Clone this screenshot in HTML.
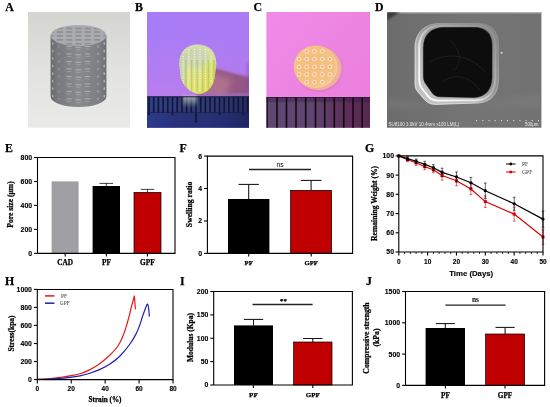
<!DOCTYPE html>
<html lang="en"><head><meta charset="utf-8"><title>Figure</title>
<style>
html,body{margin:0;padding:0;background:#fff}
body{width:550px;height:407px;overflow:hidden}
svg{display:block}
.sfb{font-family:"Liberation Serif", serif;font-weight:700}
.sfr{font-family:"Liberation Serif", serif;font-weight:400}
.ssb{font-family:"Liberation Sans", sans-serif;font-weight:700}
.ssr{font-family:"Liberation Sans", sans-serif;font-weight:400}
</style></head><body>
<svg width="550" height="407" viewBox="0 0 550 407">
<rect width="550" height="407" fill="#fff"/>
<defs><linearGradient id="gA" x1="0" y1="0" x2="0" y2="1"><stop offset="0" stop-color="#d4d4d0"/><stop offset="0.5" stop-color="#e2e2e0"/><stop offset="1" stop-color="#eaeae9"/></linearGradient><linearGradient id="gCyl" x1="0" y1="0" x2="1" y2="0"><stop offset="0" stop-color="#68696d"/><stop offset="0.12" stop-color="#77797c"/><stop offset="0.5" stop-color="#888a8d"/><stop offset="0.88" stop-color="#7c7e81"/><stop offset="1" stop-color="#6b6d70"/></linearGradient><clipPath id="cTop"><ellipse cx="78.5" cy="35.5" rx="27.2" ry="9.8"/></clipPath><clipPath id="cA"><rect x="28" y="12" width="102" height="115.7"/></clipPath><linearGradient id="gB" x1="0" y1="0" x2="1" y2="1"><stop offset="0" stop-color="#a87cf8"/><stop offset="0.5" stop-color="#aa7cf4"/><stop offset="1" stop-color="#a874ee"/></linearGradient><linearGradient id="gBs" x1="0" y1="0" x2="0" y2="1"><stop offset="0" stop-color="#d4dfac"/><stop offset="0.4" stop-color="#d8e096"/><stop offset="0.7" stop-color="#dee278"/><stop offset="1" stop-color="#e2e268"/></linearGradient><linearGradient id="gBr" x1="0" y1="0" x2="0" y2="1"><stop offset="0" stop-color="#2c3468"/><stop offset="0.5" stop-color="#2a3270"/><stop offset="1" stop-color="#26307a"/></linearGradient><linearGradient id="gHl" x1="0" y1="0" x2="0" y2="1"><stop offset="0" stop-color="#d8e0c0" stop-opacity="0.75"/><stop offset="0.5" stop-color="#b0c0b8" stop-opacity="0.45"/><stop offset="1" stop-color="#8090b0" stop-opacity="0"/></linearGradient><linearGradient id="gBh" x1="0" y1="0" x2="1" y2="0"><stop offset="0" stop-color="#3050c0" stop-opacity="0.3"/><stop offset="0.5" stop-color="#203090" stop-opacity="0.05"/><stop offset="1" stop-color="#101040" stop-opacity="0.4"/></linearGradient><linearGradient id="gBp" x1="0" y1="0" x2="0" y2="1"><stop offset="0" stop-color="#c880e6" stop-opacity="0"/><stop offset="1" stop-color="#c880e6" stop-opacity="0.5"/></linearGradient><clipPath id="cB"><rect x="147" y="12" width="102" height="115.7"/></clipPath><linearGradient id="gC" x1="0" y1="0" x2="1" y2="1"><stop offset="0" stop-color="#f08ae8"/><stop offset="1" stop-color="#ea7edb"/></linearGradient><radialGradient id="gCd" cx="0.45" cy="0.45" r="0.6"><stop offset="0" stop-color="#f4be7c"/><stop offset="0.8" stop-color="#f4c384"/><stop offset="1" stop-color="#f8d4a4"/></radialGradient><linearGradient id="gCr" x1="0" y1="0" x2="1" y2="0"><stop offset="0" stop-color="#5c4a70"/><stop offset="0.45" stop-color="#60466e"/><stop offset="0.75" stop-color="#5c3058"/><stop offset="1" stop-color="#582850"/></linearGradient><clipPath id="cC"><rect x="266.4" y="12" width="103.6" height="115.7"/></clipPath><linearGradient id="gD" x1="0" y1="0" x2="1" y2="0"><stop offset="0" stop-color="#6c6c6c"/><stop offset="0.5" stop-color="#747474"/><stop offset="1" stop-color="#727272"/></linearGradient><linearGradient id="gRim" x1="1" y1="0" x2="0" y2="1"><stop offset="0" stop-color="#858585"/><stop offset="0.45" stop-color="#989898"/><stop offset="0.62" stop-color="#b4b4b4"/><stop offset="1" stop-color="#c8c8c8"/></linearGradient><linearGradient id="gRim2" x1="1" y1="0" x2="0" y2="1"><stop offset="0" stop-color="#8c8c8c"/><stop offset="0.45" stop-color="#b4b4b4"/><stop offset="0.65" stop-color="#ececec"/><stop offset="1" stop-color="#ffffff"/></linearGradient><linearGradient id="gRim3" x1="1" y1="0" x2="0" y2="1"><stop offset="0" stop-color="#4a4a4a"/><stop offset="0.5" stop-color="#686868"/><stop offset="1" stop-color="#8a8a8a"/></linearGradient><clipPath id="cD"><rect x="387" y="12" width="154.4" height="115.7"/></clipPath><filter id="blur1" x="-20%" y="-20%" width="140%" height="140%"><feGaussianBlur stdDeviation="1"/></filter><filter id="blur3" x="-30%" y="-30%" width="160%" height="160%"><feGaussianBlur stdDeviation="3"/></filter><filter id="blur05" x="-20%" y="-20%" width="140%" height="140%"><feGaussianBlur stdDeviation="0.5"/></filter></defs>
<rect x="28" y="12" width="102.00" height="115.70" fill="url(#gA)"/>
<g clip-path="url(#cA)">
<path d="M50.6 35.5V96.5A27.9 10.5 0 0 0 106.4 96.5V35.5Z" fill="url(#gCyl)"/>
<rect x="66.4" y="45.9" width="5.2" height="1.1" fill="#b9bbbf" opacity="0.75"/>
<rect x="66.8" y="48.5" width="4.4" height="0.9" fill="#aeb0b4" opacity="0.6"/>
<rect x="75.5" y="46.7" width="5.6" height="1.1" fill="#b9bbbf" opacity="0.75"/>
<rect x="75.9" y="49.3" width="4.8" height="0.9" fill="#aeb0b4" opacity="0.6"/>
<rect x="85.0" y="45.9" width="5.2" height="1.1" fill="#b9bbbf" opacity="0.75"/>
<rect x="85.4" y="48.5" width="4.4" height="0.9" fill="#aeb0b4" opacity="0.6"/>
<ellipse cx="52.8" cy="43.5" rx="0.8" ry="1.5" fill="#a9abaf"/>
<ellipse cx="104.2" cy="43.5" rx="0.8" ry="1.5" fill="#b3b5b9"/>
<ellipse cx="59" cy="46.5" rx="1.4" ry="1.2" fill="#8e9093" opacity="0.7"/>
<ellipse cx="98" cy="46.5" rx="1.4" ry="1.2" fill="#a0a2a5" opacity="0.7"/>
<rect x="66.4" y="53.4" width="5.2" height="1.1" fill="#b9bbbf" opacity="0.75"/>
<rect x="66.8" y="56.0" width="4.4" height="0.9" fill="#aeb0b4" opacity="0.6"/>
<rect x="75.5" y="54.2" width="5.6" height="1.1" fill="#b9bbbf" opacity="0.75"/>
<rect x="75.9" y="56.8" width="4.8" height="0.9" fill="#aeb0b4" opacity="0.6"/>
<rect x="85.0" y="53.4" width="5.2" height="1.1" fill="#b9bbbf" opacity="0.75"/>
<rect x="85.4" y="56.0" width="4.4" height="0.9" fill="#aeb0b4" opacity="0.6"/>
<ellipse cx="52.8" cy="51.0" rx="0.8" ry="1.5" fill="#a9abaf"/>
<ellipse cx="104.2" cy="51.0" rx="0.8" ry="1.5" fill="#b3b5b9"/>
<ellipse cx="59" cy="54.0" rx="1.4" ry="1.2" fill="#8e9093" opacity="0.7"/>
<ellipse cx="98" cy="54.0" rx="1.4" ry="1.2" fill="#a0a2a5" opacity="0.7"/>
<rect x="66.4" y="60.9" width="5.2" height="1.1" fill="#b9bbbf" opacity="0.75"/>
<rect x="66.8" y="63.5" width="4.4" height="0.9" fill="#aeb0b4" opacity="0.6"/>
<rect x="75.5" y="61.7" width="5.6" height="1.1" fill="#b9bbbf" opacity="0.75"/>
<rect x="75.9" y="64.3" width="4.8" height="0.9" fill="#aeb0b4" opacity="0.6"/>
<rect x="85.0" y="60.9" width="5.2" height="1.1" fill="#b9bbbf" opacity="0.75"/>
<rect x="85.4" y="63.5" width="4.4" height="0.9" fill="#aeb0b4" opacity="0.6"/>
<ellipse cx="52.8" cy="58.5" rx="0.8" ry="1.5" fill="#a9abaf"/>
<ellipse cx="104.2" cy="58.5" rx="0.8" ry="1.5" fill="#b3b5b9"/>
<ellipse cx="59" cy="61.5" rx="1.4" ry="1.2" fill="#8e9093" opacity="0.7"/>
<ellipse cx="98" cy="61.5" rx="1.4" ry="1.2" fill="#a0a2a5" opacity="0.7"/>
<rect x="66.4" y="68.4" width="5.2" height="1.1" fill="#b9bbbf" opacity="0.75"/>
<rect x="66.8" y="71.0" width="4.4" height="0.9" fill="#aeb0b4" opacity="0.6"/>
<rect x="75.5" y="69.2" width="5.6" height="1.1" fill="#b9bbbf" opacity="0.75"/>
<rect x="75.9" y="71.8" width="4.8" height="0.9" fill="#aeb0b4" opacity="0.6"/>
<rect x="85.0" y="68.4" width="5.2" height="1.1" fill="#b9bbbf" opacity="0.75"/>
<rect x="85.4" y="71.0" width="4.4" height="0.9" fill="#aeb0b4" opacity="0.6"/>
<ellipse cx="52.8" cy="66.0" rx="0.8" ry="1.5" fill="#a9abaf"/>
<ellipse cx="104.2" cy="66.0" rx="0.8" ry="1.5" fill="#b3b5b9"/>
<ellipse cx="59" cy="69.0" rx="1.4" ry="1.2" fill="#8e9093" opacity="0.7"/>
<ellipse cx="98" cy="69.0" rx="1.4" ry="1.2" fill="#a0a2a5" opacity="0.7"/>
<rect x="66.4" y="75.9" width="5.2" height="1.1" fill="#b9bbbf" opacity="0.75"/>
<rect x="66.8" y="78.5" width="4.4" height="0.9" fill="#aeb0b4" opacity="0.6"/>
<rect x="75.5" y="76.7" width="5.6" height="1.1" fill="#b9bbbf" opacity="0.75"/>
<rect x="75.9" y="79.3" width="4.8" height="0.9" fill="#aeb0b4" opacity="0.6"/>
<rect x="85.0" y="75.9" width="5.2" height="1.1" fill="#b9bbbf" opacity="0.75"/>
<rect x="85.4" y="78.5" width="4.4" height="0.9" fill="#aeb0b4" opacity="0.6"/>
<ellipse cx="52.8" cy="73.5" rx="0.8" ry="1.5" fill="#a9abaf"/>
<ellipse cx="104.2" cy="73.5" rx="0.8" ry="1.5" fill="#b3b5b9"/>
<ellipse cx="59" cy="76.5" rx="1.4" ry="1.2" fill="#8e9093" opacity="0.7"/>
<ellipse cx="98" cy="76.5" rx="1.4" ry="1.2" fill="#a0a2a5" opacity="0.7"/>
<rect x="66.4" y="83.4" width="5.2" height="1.1" fill="#b9bbbf" opacity="0.75"/>
<rect x="66.8" y="86.0" width="4.4" height="0.9" fill="#aeb0b4" opacity="0.6"/>
<rect x="75.5" y="84.2" width="5.6" height="1.1" fill="#b9bbbf" opacity="0.75"/>
<rect x="75.9" y="86.8" width="4.8" height="0.9" fill="#aeb0b4" opacity="0.6"/>
<rect x="85.0" y="83.4" width="5.2" height="1.1" fill="#b9bbbf" opacity="0.75"/>
<rect x="85.4" y="86.0" width="4.4" height="0.9" fill="#aeb0b4" opacity="0.6"/>
<ellipse cx="52.8" cy="81.0" rx="0.8" ry="1.5" fill="#a9abaf"/>
<ellipse cx="104.2" cy="81.0" rx="0.8" ry="1.5" fill="#b3b5b9"/>
<ellipse cx="59" cy="84.0" rx="1.4" ry="1.2" fill="#8e9093" opacity="0.7"/>
<ellipse cx="98" cy="84.0" rx="1.4" ry="1.2" fill="#a0a2a5" opacity="0.7"/>
<rect x="66.4" y="90.9" width="5.2" height="1.1" fill="#b9bbbf" opacity="0.75"/>
<rect x="66.8" y="93.5" width="4.4" height="0.9" fill="#aeb0b4" opacity="0.6"/>
<rect x="75.5" y="91.7" width="5.6" height="1.1" fill="#b9bbbf" opacity="0.75"/>
<rect x="75.9" y="94.3" width="4.8" height="0.9" fill="#aeb0b4" opacity="0.6"/>
<rect x="85.0" y="90.9" width="5.2" height="1.1" fill="#b9bbbf" opacity="0.75"/>
<rect x="85.4" y="93.5" width="4.4" height="0.9" fill="#aeb0b4" opacity="0.6"/>
<ellipse cx="52.8" cy="88.5" rx="0.8" ry="1.5" fill="#a9abaf"/>
<ellipse cx="104.2" cy="88.5" rx="0.8" ry="1.5" fill="#b3b5b9"/>
<ellipse cx="59" cy="91.5" rx="1.4" ry="1.2" fill="#8e9093" opacity="0.7"/>
<ellipse cx="98" cy="91.5" rx="1.4" ry="1.2" fill="#a0a2a5" opacity="0.7"/>
<rect x="66.4" y="98.4" width="5.2" height="1.1" fill="#b9bbbf" opacity="0.75"/>
<rect x="66.8" y="101.0" width="4.4" height="0.9" fill="#aeb0b4" opacity="0.6"/>
<rect x="75.5" y="99.2" width="5.6" height="1.1" fill="#b9bbbf" opacity="0.75"/>
<rect x="75.9" y="101.8" width="4.8" height="0.9" fill="#aeb0b4" opacity="0.6"/>
<rect x="85.0" y="98.4" width="5.2" height="1.1" fill="#b9bbbf" opacity="0.75"/>
<rect x="85.4" y="101.0" width="4.4" height="0.9" fill="#aeb0b4" opacity="0.6"/>
<ellipse cx="52.8" cy="96.0" rx="0.8" ry="1.5" fill="#a9abaf"/>
<ellipse cx="104.2" cy="96.0" rx="0.8" ry="1.5" fill="#b3b5b9"/>
<ellipse cx="59" cy="99.0" rx="1.4" ry="1.2" fill="#8e9093" opacity="0.7"/>
<ellipse cx="98" cy="99.0" rx="1.4" ry="1.2" fill="#a0a2a5" opacity="0.7"/>
<ellipse cx="78.5" cy="35.5" rx="27.9" ry="10.5" fill="#a9abae"/>
<g clip-path="url(#cTop)">
<rect x="47.6" y="27.6" width="6" height="1.7" fill="#8d8f92"/>
<rect x="56.9" y="27.6" width="6" height="1.7" fill="#8d8f92"/>
<rect x="66.2" y="27.6" width="6" height="1.7" fill="#8d8f92"/>
<rect x="75.5" y="27.6" width="6" height="1.7" fill="#8d8f92"/>
<rect x="84.8" y="27.6" width="6" height="1.7" fill="#8d8f92"/>
<rect x="94.1" y="27.6" width="6" height="1.7" fill="#8d8f92"/>
<rect x="103.4" y="27.6" width="6" height="1.7" fill="#8d8f92"/>
<rect x="47.6" y="31.2" width="6" height="1.7" fill="#8d8f92"/>
<rect x="56.9" y="31.2" width="6" height="1.7" fill="#8d8f92"/>
<rect x="66.2" y="31.2" width="6" height="1.7" fill="#8d8f92"/>
<rect x="75.5" y="31.2" width="6" height="1.7" fill="#8d8f92"/>
<rect x="84.8" y="31.2" width="6" height="1.7" fill="#8d8f92"/>
<rect x="94.1" y="31.2" width="6" height="1.7" fill="#8d8f92"/>
<rect x="103.4" y="31.2" width="6" height="1.7" fill="#8d8f92"/>
<rect x="47.6" y="35.0" width="6" height="1.7" fill="#8d8f92"/>
<rect x="56.9" y="35.0" width="6" height="1.7" fill="#8d8f92"/>
<rect x="66.2" y="35.0" width="6" height="1.7" fill="#8d8f92"/>
<rect x="75.5" y="35.0" width="6" height="1.7" fill="#8d8f92"/>
<rect x="84.8" y="35.0" width="6" height="1.7" fill="#8d8f92"/>
<rect x="94.1" y="35.0" width="6" height="1.7" fill="#8d8f92"/>
<rect x="103.4" y="35.0" width="6" height="1.7" fill="#8d8f92"/>
<rect x="47.6" y="39.0" width="6" height="1.7" fill="#8d8f92"/>
<rect x="56.9" y="39.0" width="6" height="1.7" fill="#8d8f92"/>
<rect x="66.2" y="39.0" width="6" height="1.7" fill="#8d8f92"/>
<rect x="75.5" y="39.0" width="6" height="1.7" fill="#8d8f92"/>
<rect x="84.8" y="39.0" width="6" height="1.7" fill="#8d8f92"/>
<rect x="94.1" y="39.0" width="6" height="1.7" fill="#8d8f92"/>
<rect x="103.4" y="39.0" width="6" height="1.7" fill="#8d8f92"/>
<rect x="47.6" y="43.0" width="6" height="1.7" fill="#8d8f92"/>
<rect x="56.9" y="43.0" width="6" height="1.7" fill="#8d8f92"/>
<rect x="66.2" y="43.0" width="6" height="1.7" fill="#8d8f92"/>
<rect x="75.5" y="43.0" width="6" height="1.7" fill="#8d8f92"/>
<rect x="84.8" y="43.0" width="6" height="1.7" fill="#8d8f92"/>
<rect x="94.1" y="43.0" width="6" height="1.7" fill="#8d8f92"/>
<rect x="103.4" y="43.0" width="6" height="1.7" fill="#8d8f92"/>
</g>
</g>
<rect x="147" y="12" width="102.00" height="115.70" fill="url(#gB)"/>
<g clip-path="url(#cB)">
<rect x="147" y="36" width="102" height="62" fill="url(#gBp)"/>
<path d="M206 66 L252 78 L252 99 L198 99 Z" fill="#935680" filter="url(#blur1)" opacity="0.95"/>
<path d="M206 70 L232 79 L226 99 L198 99 Z" fill="#b47890" filter="url(#blur3)" opacity="0.8"/>
<rect x="246" y="62" width="5" height="36" fill="#7a48b0" opacity="0.3" filter="url(#blur1)"/>
<rect x="196" y="93" width="56" height="5" fill="#a070c8" opacity="0.6" filter="url(#blur1)"/>
<g filter="url(#blur05)">
<path d="M179.3 64 C179.3 51 187 44.6 197.6 44.6 C208.4 44.6 216.3 51 216.3 64 L214.6 78 C213.6 83 212 86.5 208.4 90 C205 93 201.5 93.8 198.5 93.8 C194.5 93.8 191.5 92 188.6 89.6 C185 86.5 182 82 180.8 78 Z" fill="url(#gBs)"/>
<clipPath id="cBs"><path d="M179.3 64 C179.3 51 187 44.6 197.6 44.6 C208.4 44.6 216.3 51 216.3 64 L214.6 78 C213.6 83 212 86.5 208.4 90 C205 93 201.5 93.8 198.5 93.8 C194.5 93.8 191.5 92 188.6 89.6 C185 86.5 182 82 180.8 78 Z"/></clipPath>
<g clip-path="url(#cBs)">
<ellipse cx="196" cy="58" rx="12" ry="10" fill="#c4ccc0" opacity="0.55" filter="url(#blur1)"/>
<rect x="179" y="54" width="6.5" height="32" fill="#b8ccc0" opacity="0.6" filter="url(#blur1)"/>
<path d="M206 62 H217 V80 L209 93 H200 Z" fill="#d6de50" opacity="0.5" filter="url(#blur1)"/>
<line x1="183.2" y1="56" x2="183.2" y2="84" stroke="#f6f8e0" stroke-width="1.4" stroke-dasharray="1.2 1.2" opacity="0.75"/>
<line x1="186.0" y1="60" x2="186.0" y2="92" stroke="#a8b458" stroke-width="1.3" opacity="0.5"/>
<line x1="188.8" y1="49" x2="188.8" y2="92" stroke="#f6f8e0" stroke-width="1.4" stroke-dasharray="1.2 1.2" opacity="0.75"/>
<line x1="191.60000000000002" y1="60" x2="191.60000000000002" y2="92" stroke="#a8b458" stroke-width="1.3" opacity="0.5"/>
<line x1="194.4" y1="49" x2="194.4" y2="92" stroke="#f6f8e0" stroke-width="1.4" stroke-dasharray="1.2 1.2" opacity="0.75"/>
<line x1="197.20000000000002" y1="60" x2="197.20000000000002" y2="92" stroke="#a8b458" stroke-width="1.3" opacity="0.5"/>
<line x1="200.0" y1="49" x2="200.0" y2="92" stroke="#f6f8e0" stroke-width="1.4" stroke-dasharray="1.2 1.2" opacity="0.75"/>
<line x1="202.8" y1="60" x2="202.8" y2="92" stroke="#a8b458" stroke-width="1.3" opacity="0.5"/>
<line x1="205.6" y1="49" x2="205.6" y2="92" stroke="#f6f8e0" stroke-width="1.4" stroke-dasharray="1.2 1.2" opacity="0.75"/>
<line x1="208.4" y1="60" x2="208.4" y2="92" stroke="#a8b458" stroke-width="1.3" opacity="0.5"/>
<line x1="211.2" y1="56" x2="211.2" y2="84" stroke="#f6f8e0" stroke-width="1.4" stroke-dasharray="1.2 1.2" opacity="0.75"/>
<line x1="214.0" y1="60" x2="214.0" y2="92" stroke="#a8b458" stroke-width="1.3" opacity="0.5"/>
</g>
</g>
<rect x="147" y="96.8" width="102.00" height="34.00" fill="url(#gBr)"/>
<rect x="147" y="96.8" width="102.00" height="15.20" fill="#333d76" opacity="0.8"/>
<rect x="147" y="96.8" width="102.00" height="34.00" fill="url(#gBh)"/>
<line x1="149.0" y1="97" x2="149.0" y2="115" stroke="#10142e" stroke-width="1.7" opacity="0.9"/>
<line x1="153.7" y1="97" x2="153.7" y2="113" stroke="#10142e" stroke-width="1.7" opacity="0.9"/>
<line x1="158.4" y1="97" x2="158.4" y2="113" stroke="#10142e" stroke-width="1.7" opacity="0.9"/>
<line x1="163.1" y1="97" x2="163.1" y2="113" stroke="#10142e" stroke-width="1.7" opacity="0.9"/>
<line x1="167.8" y1="97" x2="167.8" y2="113" stroke="#10142e" stroke-width="1.7" opacity="0.9"/>
<line x1="172.5" y1="97" x2="172.5" y2="115" stroke="#10142e" stroke-width="1.7" opacity="0.9"/>
<line x1="177.2" y1="97" x2="177.2" y2="113" stroke="#10142e" stroke-width="1.7" opacity="0.9"/>
<line x1="181.9" y1="97" x2="181.9" y2="113" stroke="#10142e" stroke-width="1.7" opacity="0.9"/>
<line x1="186.6" y1="97" x2="186.6" y2="113" stroke="#10142e" stroke-width="1.7" opacity="0.9"/>
<line x1="191.3" y1="97" x2="191.3" y2="113" stroke="#10142e" stroke-width="1.7" opacity="0.9"/>
<line x1="196.0" y1="97" x2="196.0" y2="123" stroke="#10142e" stroke-width="1.7" opacity="0.9"/>
<line x1="200.7" y1="97" x2="200.7" y2="113" stroke="#10142e" stroke-width="1.7" opacity="0.9"/>
<line x1="205.4" y1="97" x2="205.4" y2="113" stroke="#10142e" stroke-width="1.7" opacity="0.9"/>
<line x1="210.1" y1="97" x2="210.1" y2="113" stroke="#10142e" stroke-width="1.7" opacity="0.9"/>
<line x1="214.8" y1="97" x2="214.8" y2="113" stroke="#10142e" stroke-width="1.7" opacity="0.9"/>
<line x1="219.5" y1="97" x2="219.5" y2="115" stroke="#10142e" stroke-width="1.7" opacity="0.9"/>
<line x1="224.2" y1="97" x2="224.2" y2="113" stroke="#10142e" stroke-width="1.7" opacity="0.9"/>
<line x1="228.9" y1="97" x2="228.9" y2="113" stroke="#10142e" stroke-width="1.7" opacity="0.9"/>
<line x1="233.6" y1="97" x2="233.6" y2="113" stroke="#10142e" stroke-width="1.7" opacity="0.9"/>
<line x1="238.3" y1="97" x2="238.3" y2="113" stroke="#10142e" stroke-width="1.7" opacity="0.9"/>
<line x1="243.0" y1="97" x2="243.0" y2="115" stroke="#10142e" stroke-width="1.7" opacity="0.9"/>
<line x1="247.7" y1="97" x2="247.7" y2="113" stroke="#10142e" stroke-width="1.7" opacity="0.9"/>
<line x1="252.4" y1="97" x2="252.4" y2="113" stroke="#10142e" stroke-width="1.7" opacity="0.9"/>
<line x1="147" y1="112.4" x2="249" y2="112.4" stroke="#1a2048" stroke-width="1" opacity="0.7"/>
<rect x="183" y="96" width="14" height="12" fill="url(#gHl)" filter="url(#blur1)"/>
<line x1="147" y1="96.8" x2="249" y2="96.8" stroke="#181c40" stroke-width="1"/>
</g>
<rect x="266.4" y="12" width="103.60" height="115.70" fill="url(#gC)"/>
<g clip-path="url(#cC)">
<ellipse cx="319.3" cy="69.6" rx="23.4" ry="22" fill="#d070b8" opacity="0.55" filter="url(#blur1)"/>
<ellipse cx="318.3" cy="68.4" rx="23.2" ry="21.8" fill="#eeb09a" filter="url(#blur05)"/>
<g filter="url(#blur05)">
<ellipse cx="315.6" cy="66.7" rx="21.9" ry="21.2" fill="url(#gCd)"/>
<circle cx="299" cy="59" r="1.8" fill="#f2ac8c" stroke="#fbe8d0" stroke-width="1.0"/>
<circle cx="299" cy="66.8" r="1.8" fill="#f2ac8c" stroke="#fbe8d0" stroke-width="1.0"/>
<circle cx="299" cy="74.5" r="1.8" fill="#f2ac8c" stroke="#fbe8d0" stroke-width="1.0"/>
<circle cx="306.7" cy="51.3" r="1.8" fill="#f2ac8c" stroke="#fbe8d0" stroke-width="1.0"/>
<circle cx="306.7" cy="59" r="1.8" fill="#f2ac8c" stroke="#fbe8d0" stroke-width="1.0"/>
<circle cx="306.7" cy="66.8" r="1.8" fill="#f2ac8c" stroke="#fbe8d0" stroke-width="1.0"/>
<circle cx="306.7" cy="74.5" r="1.8" fill="#f2ac8c" stroke="#fbe8d0" stroke-width="1.0"/>
<circle cx="306.7" cy="82.2" r="1.8" fill="#f2ac8c" stroke="#fbe8d0" stroke-width="1.0"/>
<circle cx="314.5" cy="51.3" r="1.8" fill="#f2ac8c" stroke="#fbe8d0" stroke-width="1.0"/>
<circle cx="314.5" cy="59" r="1.8" fill="#f2ac8c" stroke="#fbe8d0" stroke-width="1.0"/>
<circle cx="314.5" cy="66.8" r="1.8" fill="#f2ac8c" stroke="#fbe8d0" stroke-width="1.0"/>
<circle cx="314.5" cy="74.5" r="1.8" fill="#f2ac8c" stroke="#fbe8d0" stroke-width="1.0"/>
<circle cx="314.5" cy="82.2" r="1.8" fill="#f2ac8c" stroke="#fbe8d0" stroke-width="1.0"/>
<circle cx="322.2" cy="51.3" r="1.8" fill="#f2ac8c" stroke="#fbe8d0" stroke-width="1.0"/>
<circle cx="322.2" cy="59" r="1.8" fill="#f2ac8c" stroke="#fbe8d0" stroke-width="1.0"/>
<circle cx="322.2" cy="66.8" r="1.8" fill="#f2ac8c" stroke="#fbe8d0" stroke-width="1.0"/>
<circle cx="322.2" cy="74.5" r="1.8" fill="#f2ac8c" stroke="#fbe8d0" stroke-width="1.0"/>
<circle cx="322.2" cy="82.2" r="1.8" fill="#f2ac8c" stroke="#fbe8d0" stroke-width="1.0"/>
<circle cx="329.9" cy="59" r="1.8" fill="#f2ac8c" stroke="#fbe8d0" stroke-width="1.0"/>
<circle cx="329.9" cy="66.8" r="1.8" fill="#f2ac8c" stroke="#fbe8d0" stroke-width="1.0"/>
<circle cx="329.9" cy="74.5" r="1.8" fill="#f2ac8c" stroke="#fbe8d0" stroke-width="1.0"/>
</g>
<rect x="266.4" y="97.2" width="103.60" height="34.00" fill="url(#gCr)"/>
<rect x="266.4" y="97.2" width="103.60" height="5.00" fill="#30183a" opacity="0.35"/>
<line x1="267.0" y1="97.2" x2="267.0" y2="131" stroke="#160818" stroke-width="1.6"/>
<line x1="277.0" y1="97.2" x2="277.0" y2="131" stroke="#160818" stroke-width="1.6"/>
<line x1="286.5" y1="97.2" x2="286.5" y2="131" stroke="#160818" stroke-width="1.6"/>
<line x1="296.0" y1="97.2" x2="296.0" y2="131" stroke="#160818" stroke-width="1.6"/>
<line x1="305.7" y1="97.2" x2="305.7" y2="131" stroke="#160818" stroke-width="1.6"/>
<line x1="315.5" y1="97.2" x2="315.5" y2="131" stroke="#160818" stroke-width="1.6"/>
<line x1="324.7" y1="97.2" x2="324.7" y2="131" stroke="#160818" stroke-width="1.6"/>
<line x1="334.3" y1="97.2" x2="334.3" y2="131" stroke="#160818" stroke-width="1.6"/>
<line x1="343.8" y1="97.2" x2="343.8" y2="131" stroke="#160818" stroke-width="1.6"/>
<line x1="353.0" y1="97.2" x2="353.0" y2="131" stroke="#160818" stroke-width="1.6"/>
<line x1="362.2" y1="97.2" x2="362.2" y2="131" stroke="#160818" stroke-width="1.6"/>
<line x1="266.4" y1="97.5" x2="370" y2="97.5" stroke="#2a1430" stroke-width="0.8"/>
</g>
<rect x="387" y="12" width="154.40" height="115.70" fill="url(#gD)"/>
<g clip-path="url(#cD)">
<rect x="387" y="12" width="154.4" height="1.4" fill="#b0b0b0"/>
<path d="M387 12 L400 12 L387 20 Z" fill="#3a3a3a" filter="url(#blur1)"/>
<path d="M387 100 C400 99 410 101 420 104 C440 110 470 108 500 100 L541 92 V108 H387Z" fill="#808080" opacity="0.5" filter="url(#blur3)"/>
<path d="M440 23.6 H478 C491 23.6 498.4 31 498.4 44 V80 C498.4 93 492 102 478 103 L436 104.4 C430 104.4 427 102.5 424 99 L417.5 91.5 C415.6 89 415 87 415 83 V48 C415 33 424 23.6 440 23.6 Z" fill="url(#gRim)" filter="url(#blur05)"/>
<path d="M441.5 25.6 H476.5 C488.5 25.6 495.2 32.5 495.2 45 V79 C495 91 489 99.5 476.5 100.3 L438 100.6 C433 100.6 430.2 99 427.6 95.6 L421.3 87.5 C419.6 85.2 419.2 83 419.2 79.5 V48 C419.2 34.5 427 25.6 441.5 25.6 Z" fill="none" stroke="url(#gRim2)" stroke-width="1.9" filter="url(#blur05)"/>
<path d="M440 23.6 H478 C491 23.6 498.4 31 498.4 44 V80 C498.4 93 492 102 478 103 L436 104.4 C430 104.4 427 102.5 424 99 L417.5 91.5 C415.6 89 415 87 415 83 V48 C415 33 424 23.6 440 23.6 Z" fill="none" stroke="url(#gRim2)" stroke-width="0.9" opacity="0.8"/>
<path d="M444 27.5 H474 C486 27.5 492 34 492 46 V78 C491.5 89 486 97 474 97.4 L440 96.8 C436 96.8 433.5 95 431.5 92 L425.5 83.5 C424 81.5 423.4 79 423.4 76 V48 C423.4 35 431 27.5 444 27.5 Z" fill="#0b0b0b" stroke="url(#gRim3)" stroke-width="1.2"/>
<path d="M444 27.5 H474 C486 27.5 492 34 492 46 V78 C491.5 89 486 97 474 97.4 L440 96.8 C436 96.8 433.5 95 431.5 92 L425.5 83.5 C424 81.5 423.4 79 423.4 76 V48 C423.4 35 431 27.5 444 27.5 Z" fill="#0b0b0b" filter="url(#blur05)"/>
<path d="M430 62 C445 52 470 54 485 72 M442 82 C455 72 470 77 480 90 M450 40 C460 50 462 60 455 70" fill="none" stroke="#242424" stroke-width="0.8"/>
<circle cx="501.6" cy="52.8" r="1.1" fill="#d0d0d0"/>
<text class="ssr" x="388.5" y="125.8" font-size="4.8" text-anchor="start" fill="#ececec" textLength="70.5" lengthAdjust="spacingAndGlyphs">SU8100 3.0kV 10.4mm x100 LM(L)</text>
<text class="ssr" x="525" y="125.8" font-size="4.8" text-anchor="start" fill="#ececec" textLength="13.4" lengthAdjust="spacingAndGlyphs">500μm</text>
<rect x="476.2" y="120" width="0.9" height="1.2" fill="#eee"/>
<rect x="482.4" y="120" width="0.9" height="1.2" fill="#eee"/>
<rect x="488.6" y="120" width="0.9" height="1.2" fill="#eee"/>
<rect x="494.7" y="120" width="0.9" height="1.2" fill="#eee"/>
<rect x="500.9" y="120" width="0.9" height="1.2" fill="#eee"/>
<rect x="507.1" y="120" width="0.9" height="1.2" fill="#eee"/>
<rect x="513.3" y="120" width="0.9" height="1.2" fill="#eee"/>
<rect x="519.5" y="120" width="0.9" height="1.2" fill="#eee"/>
<rect x="525.6" y="120" width="0.9" height="1.2" fill="#eee"/>
<rect x="531.8" y="120" width="0.9" height="1.2" fill="#eee"/>
<rect x="538.0" y="120" width="0.9" height="1.2" fill="#eee"/>
</g>
<text class="sfb" x="5.2" y="10.6" font-size="11.8" text-anchor="start" fill="#000" stroke="#000" stroke-width="0.25">A</text>
<text class="sfb" x="135" y="10.6" font-size="11.8" text-anchor="start" fill="#000" stroke="#000" stroke-width="0.25">B</text>
<text class="sfb" x="253.4" y="10.6" font-size="11.8" text-anchor="start" fill="#000" stroke="#000" stroke-width="0.25">C</text>
<text class="sfb" x="375" y="10.6" font-size="11.8" text-anchor="start" fill="#000" stroke="#000" stroke-width="0.25">D</text>
<text class="sfb" x="5" y="152.2" font-size="11.8" text-anchor="start" fill="#000" stroke="#000" stroke-width="0.25">E</text>
<text class="sfb" x="179.4" y="152.2" font-size="11.8" text-anchor="start" fill="#000" stroke="#000" stroke-width="0.25">F</text>
<text class="sfb" x="365" y="152.2" font-size="11.8" text-anchor="start" fill="#000" stroke="#000" stroke-width="0.25">G</text>
<text class="sfb" x="5" y="284.6" font-size="11.8" text-anchor="start" fill="#000" stroke="#000" stroke-width="0.25">H</text>
<text class="sfb" x="180" y="284.6" font-size="11.8" text-anchor="start" fill="#000" stroke="#000" stroke-width="0.25">I</text>
<text class="sfb" x="366" y="284.6" font-size="11.8" text-anchor="start" fill="#000" stroke="#000" stroke-width="0.25">J</text>
<rect x="51.6" y="181.4" width="27.00" height="72.00" fill="#a0a0a4"/>
<line x1="106.3" y1="183.4" x2="106.3" y2="186" stroke="#111" stroke-width="0.8"/>
<line x1="99.5" y1="183.4" x2="113.1" y2="183.4" stroke="#111" stroke-width="0.8"/>
<rect x="92.6" y="186" width="27.40" height="67.40" fill="#000"/>
<line x1="147.5" y1="189.4" x2="147.5" y2="192.4" stroke="#111" stroke-width="0.8"/>
<line x1="140.8" y1="189.4" x2="154.2" y2="189.4" stroke="#111" stroke-width="0.8"/>
<rect x="134" y="192.4" width="27.00" height="61.00" fill="#c00000" stroke="#000" stroke-width="0.7"/>
<path d="M37.5 253.4V157.5H175V253.4H37.5" fill="none" stroke="#000" stroke-width="1.1" stroke-linejoin="miter"/>
<line x1="34.1" y1="157.5" x2="37.5" y2="157.5" stroke="#000" stroke-width="1.1"/>
<text class="ssb" x="32.1" y="159.98" font-size="6.9" text-anchor="end" fill="#000" stroke="#000" stroke-width="0.12">800</text>
<line x1="34.1" y1="181.5" x2="37.5" y2="181.5" stroke="#000" stroke-width="1.1"/>
<text class="ssb" x="32.1" y="183.98" font-size="6.9" text-anchor="end" fill="#000" stroke="#000" stroke-width="0.12">600</text>
<line x1="34.1" y1="205.4" x2="37.5" y2="205.4" stroke="#000" stroke-width="1.1"/>
<text class="ssb" x="32.1" y="207.88" font-size="6.9" text-anchor="end" fill="#000" stroke="#000" stroke-width="0.12">400</text>
<line x1="34.1" y1="229.4" x2="37.5" y2="229.4" stroke="#000" stroke-width="1.1"/>
<text class="ssb" x="32.1" y="231.88" font-size="6.9" text-anchor="end" fill="#000" stroke="#000" stroke-width="0.12">200</text>
<line x1="34.1" y1="253.4" x2="37.5" y2="253.4" stroke="#000" stroke-width="1.1"/>
<text class="ssb" x="32.1" y="255.88" font-size="6.9" text-anchor="end" fill="#000" stroke="#000" stroke-width="0.12">0</text>
<line x1="65.2" y1="253.4" x2="65.2" y2="256.4" stroke="#000" stroke-width="1.1"/>
<text class="sfb" x="65.2" y="265.4" font-size="7.3" text-anchor="middle" fill="#000" stroke="#000" stroke-width="0.25">CAD</text>
<line x1="106.4" y1="253.4" x2="106.4" y2="256.4" stroke="#000" stroke-width="1.1"/>
<text class="sfb" x="106.4" y="265.4" font-size="7.3" text-anchor="middle" fill="#000" stroke="#000" stroke-width="0.25">PF</text>
<line x1="147.4" y1="253.4" x2="147.4" y2="256.4" stroke="#000" stroke-width="1.1"/>
<text class="sfb" x="147.4" y="265.4" font-size="7.3" text-anchor="middle" fill="#000" stroke="#000" stroke-width="0.25">GPF</text>
<text class="sfb" x="12.8" y="204.5" font-size="7.6" text-anchor="middle" fill="#000" stroke="#000" stroke-width="0.25" transform="rotate(-90 12.8 204.5)">Pore size (μm)</text>
<line x1="248.7" y1="184.4" x2="248.7" y2="199" stroke="#111" stroke-width="1.05"/>
<line x1="238.5" y1="184.4" x2="258.9" y2="184.4" stroke="#111" stroke-width="1.05"/>
<rect x="228" y="199" width="41.40" height="54.40" fill="#000"/>
<line x1="311.1" y1="180.4" x2="311.1" y2="190.4" stroke="#111" stroke-width="1.05"/>
<line x1="300.8" y1="180.4" x2="321.40000000000003" y2="180.4" stroke="#111" stroke-width="1.05"/>
<rect x="290.6" y="190.4" width="41.00" height="63.00" fill="#c00000" stroke="#000" stroke-width="0.7"/>
<path d="M207.4 253.4V156.1H352.6V253.4H207.4" fill="none" stroke="#000" stroke-width="1.1" stroke-linejoin="miter"/>
<line x1="204.0" y1="156.1" x2="207.4" y2="156.1" stroke="#000" stroke-width="1.1"/>
<text class="ssb" x="202.0" y="158.58" font-size="6.9" text-anchor="end" fill="#000" stroke="#000" stroke-width="0.12">6</text>
<line x1="204.0" y1="188.5" x2="207.4" y2="188.5" stroke="#000" stroke-width="1.1"/>
<text class="ssb" x="202.0" y="190.98" font-size="6.9" text-anchor="end" fill="#000" stroke="#000" stroke-width="0.12">4</text>
<line x1="204.0" y1="221.0" x2="207.4" y2="221.0" stroke="#000" stroke-width="1.1"/>
<text class="ssb" x="202.0" y="223.48" font-size="6.9" text-anchor="end" fill="#000" stroke="#000" stroke-width="0.12">2</text>
<line x1="204.0" y1="253.4" x2="207.4" y2="253.4" stroke="#000" stroke-width="1.1"/>
<text class="ssb" x="202.0" y="255.88" font-size="6.9" text-anchor="end" fill="#000" stroke="#000" stroke-width="0.12">0</text>
<line x1="248.7" y1="253.4" x2="248.7" y2="256.4" stroke="#000" stroke-width="1.1"/>
<text class="sfb" x="248.7" y="265.2" font-size="6.7" text-anchor="middle" fill="#000" stroke="#000" stroke-width="0.25">PF</text>
<line x1="311.2" y1="253.4" x2="311.2" y2="256.4" stroke="#000" stroke-width="1.1"/>
<text class="sfb" x="311.2" y="265.2" font-size="6.7" text-anchor="middle" fill="#000" stroke="#000" stroke-width="0.25">GPF</text>
<line x1="249" y1="169.5" x2="311" y2="169.5" stroke="#222" stroke-width="1.3"/>
<text class="ssr" x="280" y="166.6" font-size="6.8" text-anchor="middle" fill="#000">ns</text>
<text class="sfb" x="192.5" y="204.4" font-size="7.7" text-anchor="middle" fill="#000" stroke="#000" stroke-width="0.25" transform="rotate(-90 192.5 204.4)">Swelling ratio</text>
<line x1="407.5" y1="157.8" x2="407.5" y2="161.7" stroke="#d80000" stroke-width="0.6"/>
<line x1="406.1" y1="157.8" x2="408.9" y2="157.8" stroke="#d80000" stroke-width="0.6"/>
<line x1="406.1" y1="161.7" x2="408.9" y2="161.7" stroke="#d80000" stroke-width="0.6"/>
<line x1="416.1" y1="160.1" x2="416.1" y2="165.5" stroke="#d80000" stroke-width="0.6"/>
<line x1="414.7" y1="160.1" x2="417.5" y2="160.1" stroke="#d80000" stroke-width="0.6"/>
<line x1="414.7" y1="165.5" x2="417.5" y2="165.5" stroke="#d80000" stroke-width="0.6"/>
<line x1="424.8" y1="163.6" x2="424.8" y2="169.7" stroke="#d80000" stroke-width="0.6"/>
<line x1="423.4" y1="163.6" x2="426.2" y2="163.6" stroke="#d80000" stroke-width="0.6"/>
<line x1="423.4" y1="169.7" x2="426.2" y2="169.7" stroke="#d80000" stroke-width="0.6"/>
<line x1="433.4" y1="166.7" x2="433.4" y2="172.8" stroke="#d80000" stroke-width="0.6"/>
<line x1="432.0" y1="166.7" x2="434.8" y2="166.7" stroke="#d80000" stroke-width="0.6"/>
<line x1="432.0" y1="172.8" x2="434.8" y2="172.8" stroke="#d80000" stroke-width="0.6"/>
<line x1="442.1" y1="170.9" x2="442.1" y2="180.1" stroke="#d80000" stroke-width="0.6"/>
<line x1="440.7" y1="170.9" x2="443.5" y2="170.9" stroke="#d80000" stroke-width="0.6"/>
<line x1="440.7" y1="180.1" x2="443.5" y2="180.1" stroke="#d80000" stroke-width="0.6"/>
<line x1="456.5" y1="175.7" x2="456.5" y2="185.7" stroke="#d80000" stroke-width="0.6"/>
<line x1="455.1" y1="175.7" x2="457.9" y2="175.7" stroke="#d80000" stroke-width="0.6"/>
<line x1="455.1" y1="185.7" x2="457.9" y2="185.7" stroke="#d80000" stroke-width="0.6"/>
<line x1="470.9" y1="183.2" x2="470.9" y2="194.7" stroke="#d80000" stroke-width="0.6"/>
<line x1="469.5" y1="183.2" x2="472.3" y2="183.2" stroke="#d80000" stroke-width="0.6"/>
<line x1="469.5" y1="194.7" x2="472.3" y2="194.7" stroke="#d80000" stroke-width="0.6"/>
<line x1="485.3" y1="195.9" x2="485.3" y2="207.4" stroke="#d80000" stroke-width="0.6"/>
<line x1="483.9" y1="195.9" x2="486.7" y2="195.9" stroke="#d80000" stroke-width="0.6"/>
<line x1="483.9" y1="207.4" x2="486.7" y2="207.4" stroke="#d80000" stroke-width="0.6"/>
<line x1="514.2" y1="207.2" x2="514.2" y2="221.1" stroke="#d80000" stroke-width="0.6"/>
<line x1="512.8" y1="207.2" x2="515.6" y2="207.2" stroke="#d80000" stroke-width="0.6"/>
<line x1="512.8" y1="221.1" x2="515.6" y2="221.1" stroke="#d80000" stroke-width="0.6"/>
<line x1="543.0" y1="229.7" x2="543.0" y2="244.3" stroke="#d80000" stroke-width="0.6"/>
<line x1="541.6" y1="229.7" x2="544.4" y2="229.7" stroke="#d80000" stroke-width="0.6"/>
<line x1="541.6" y1="244.3" x2="544.4" y2="244.3" stroke="#d80000" stroke-width="0.6"/>
<polyline points="398.8,155.9 407.5,159.7 416.1,162.8 424.8,166.7 433.4,169.7 442.1,175.5 456.5,180.7 470.9,189.0 485.3,201.6 514.2,214.1 543.0,237.0" fill="none" stroke="#d80000" stroke-width="1.2"/>
<rect x="397.3" y="154.4" width="3.00" height="3.00" fill="#d80000"/>
<rect x="406.0" y="158.2" width="3.00" height="3.00" fill="#d80000"/>
<rect x="414.6" y="161.3" width="3.00" height="3.00" fill="#d80000"/>
<rect x="423.3" y="165.2" width="3.00" height="3.00" fill="#d80000"/>
<rect x="431.9" y="168.2" width="3.00" height="3.00" fill="#d80000"/>
<rect x="440.6" y="174.0" width="3.00" height="3.00" fill="#d80000"/>
<rect x="455.0" y="179.2" width="3.00" height="3.00" fill="#d80000"/>
<rect x="469.4" y="187.5" width="3.00" height="3.00" fill="#d80000"/>
<rect x="483.8" y="200.1" width="3.00" height="3.00" fill="#d80000"/>
<rect x="512.7" y="212.6" width="3.00" height="3.00" fill="#d80000"/>
<rect x="541.5" y="235.5" width="3.00" height="3.00" fill="#d80000"/>
<line x1="407.5" y1="156.7" x2="407.5" y2="160.5" stroke="#000" stroke-width="0.6"/>
<line x1="406.1" y1="156.7" x2="408.9" y2="156.7" stroke="#000" stroke-width="0.6"/>
<line x1="406.1" y1="160.5" x2="408.9" y2="160.5" stroke="#000" stroke-width="0.6"/>
<line x1="416.1" y1="159.0" x2="416.1" y2="163.6" stroke="#000" stroke-width="0.6"/>
<line x1="414.7" y1="159.0" x2="417.5" y2="159.0" stroke="#000" stroke-width="0.6"/>
<line x1="414.7" y1="163.6" x2="417.5" y2="163.6" stroke="#000" stroke-width="0.6"/>
<line x1="424.8" y1="161.3" x2="424.8" y2="167.4" stroke="#000" stroke-width="0.6"/>
<line x1="423.4" y1="161.3" x2="426.2" y2="161.3" stroke="#000" stroke-width="0.6"/>
<line x1="423.4" y1="167.4" x2="426.2" y2="167.4" stroke="#000" stroke-width="0.6"/>
<line x1="433.4" y1="164.7" x2="433.4" y2="170.9" stroke="#000" stroke-width="0.6"/>
<line x1="432.0" y1="164.7" x2="434.8" y2="164.7" stroke="#000" stroke-width="0.6"/>
<line x1="432.0" y1="170.9" x2="434.8" y2="170.9" stroke="#000" stroke-width="0.6"/>
<line x1="442.1" y1="168.2" x2="442.1" y2="176.7" stroke="#000" stroke-width="0.6"/>
<line x1="440.7" y1="168.2" x2="443.5" y2="168.2" stroke="#000" stroke-width="0.6"/>
<line x1="440.7" y1="176.7" x2="443.5" y2="176.7" stroke="#000" stroke-width="0.6"/>
<line x1="456.5" y1="172.0" x2="456.5" y2="182.0" stroke="#000" stroke-width="0.6"/>
<line x1="455.1" y1="172.0" x2="457.9" y2="172.0" stroke="#000" stroke-width="0.6"/>
<line x1="455.1" y1="182.0" x2="457.9" y2="182.0" stroke="#000" stroke-width="0.6"/>
<line x1="470.9" y1="177.4" x2="470.9" y2="188.2" stroke="#000" stroke-width="0.6"/>
<line x1="469.5" y1="177.4" x2="472.3" y2="177.4" stroke="#000" stroke-width="0.6"/>
<line x1="469.5" y1="188.2" x2="472.3" y2="188.2" stroke="#000" stroke-width="0.6"/>
<line x1="485.3" y1="183.0" x2="485.3" y2="198.4" stroke="#000" stroke-width="0.6"/>
<line x1="483.9" y1="183.0" x2="486.7" y2="183.0" stroke="#000" stroke-width="0.6"/>
<line x1="483.9" y1="198.4" x2="486.7" y2="198.4" stroke="#000" stroke-width="0.6"/>
<line x1="514.2" y1="197.2" x2="514.2" y2="210.3" stroke="#000" stroke-width="0.6"/>
<line x1="512.8" y1="197.2" x2="515.6" y2="197.2" stroke="#000" stroke-width="0.6"/>
<line x1="512.8" y1="210.3" x2="515.6" y2="210.3" stroke="#000" stroke-width="0.6"/>
<line x1="543.0" y1="211.1" x2="543.0" y2="227.2" stroke="#000" stroke-width="0.6"/>
<line x1="541.6" y1="211.1" x2="544.4" y2="211.1" stroke="#000" stroke-width="0.6"/>
<line x1="541.6" y1="227.2" x2="544.4" y2="227.2" stroke="#000" stroke-width="0.6"/>
<polyline points="398.8,155.9 407.5,158.6 416.1,161.3 424.8,164.4 433.4,167.8 442.1,172.4 456.5,177.0 470.9,182.8 485.3,190.7 514.2,203.8 543.0,219.1" fill="none" stroke="#000" stroke-width="1.2"/>
<circle cx="398.8" cy="155.9" r="1.6" fill="#000"/>
<circle cx="407.5" cy="158.6" r="1.6" fill="#000"/>
<circle cx="416.1" cy="161.3" r="1.6" fill="#000"/>
<circle cx="424.8" cy="164.4" r="1.6" fill="#000"/>
<circle cx="433.4" cy="167.8" r="1.6" fill="#000"/>
<circle cx="442.1" cy="172.4" r="1.6" fill="#000"/>
<circle cx="456.5" cy="177.0" r="1.6" fill="#000"/>
<circle cx="470.9" cy="182.8" r="1.6" fill="#000"/>
<circle cx="485.3" cy="190.7" r="1.6" fill="#000"/>
<circle cx="514.2" cy="203.8" r="1.6" fill="#000"/>
<circle cx="543.0" cy="219.1" r="1.6" fill="#000"/>
<path d="M398.8 252.0V155.9H543V252.0H398.8" fill="none" stroke="#000" stroke-width="1.1" stroke-linejoin="miter"/>
<line x1="395.6" y1="155.9" x2="398.8" y2="155.9" stroke="#000" stroke-width="1.1"/>
<text class="ssb" x="394.0" y="158.38" font-size="6.9" text-anchor="end" fill="#000" stroke="#000" stroke-width="0.12">100</text>
<line x1="395.6" y1="175.12" x2="398.8" y2="175.12" stroke="#000" stroke-width="1.1"/>
<text class="ssb" x="394.0" y="177.6" font-size="6.9" text-anchor="end" fill="#000" stroke="#000" stroke-width="0.12">90</text>
<line x1="395.6" y1="194.34" x2="398.8" y2="194.34" stroke="#000" stroke-width="1.1"/>
<text class="ssb" x="394.0" y="196.82" font-size="6.9" text-anchor="end" fill="#000" stroke="#000" stroke-width="0.12">80</text>
<line x1="395.6" y1="213.56" x2="398.8" y2="213.56" stroke="#000" stroke-width="1.1"/>
<text class="ssb" x="394.0" y="216.04" font-size="6.9" text-anchor="end" fill="#000" stroke="#000" stroke-width="0.12">70</text>
<line x1="395.6" y1="232.78" x2="398.8" y2="232.78" stroke="#000" stroke-width="1.1"/>
<text class="ssb" x="394.0" y="235.26" font-size="6.9" text-anchor="end" fill="#000" stroke="#000" stroke-width="0.12">60</text>
<line x1="395.6" y1="252.0" x2="398.8" y2="252.0" stroke="#000" stroke-width="1.1"/>
<text class="ssb" x="394.0" y="254.48" font-size="6.9" text-anchor="end" fill="#000" stroke="#000" stroke-width="0.12">50</text>
<line x1="398.8" y1="252.0" x2="398.8" y2="255.6" stroke="#000" stroke-width="1.1"/>
<text class="ssb" x="398.8" y="263.8" font-size="6.5" text-anchor="middle" fill="#000" stroke="#000" stroke-width="0.12">0</text>
<line x1="404.57" y1="252.0" x2="404.57" y2="254.0" stroke="#000" stroke-width="0.8"/>
<line x1="410.34" y1="252.0" x2="410.34" y2="254.0" stroke="#000" stroke-width="0.8"/>
<line x1="416.1" y1="252.0" x2="416.1" y2="254.0" stroke="#000" stroke-width="0.8"/>
<line x1="421.87" y1="252.0" x2="421.87" y2="254.0" stroke="#000" stroke-width="0.8"/>
<line x1="427.64" y1="252.0" x2="427.64" y2="255.6" stroke="#000" stroke-width="1.1"/>
<text class="ssb" x="427.64" y="263.8" font-size="6.5" text-anchor="middle" fill="#000" stroke="#000" stroke-width="0.12">10</text>
<line x1="433.41" y1="252.0" x2="433.41" y2="254.0" stroke="#000" stroke-width="0.8"/>
<line x1="439.18" y1="252.0" x2="439.18" y2="254.0" stroke="#000" stroke-width="0.8"/>
<line x1="444.94" y1="252.0" x2="444.94" y2="254.0" stroke="#000" stroke-width="0.8"/>
<line x1="450.71" y1="252.0" x2="450.71" y2="254.0" stroke="#000" stroke-width="0.8"/>
<line x1="456.48" y1="252.0" x2="456.48" y2="255.6" stroke="#000" stroke-width="1.1"/>
<text class="ssb" x="456.48" y="263.8" font-size="6.5" text-anchor="middle" fill="#000" stroke="#000" stroke-width="0.12">20</text>
<line x1="462.25" y1="252.0" x2="462.25" y2="254.0" stroke="#000" stroke-width="0.8"/>
<line x1="468.02" y1="252.0" x2="468.02" y2="254.0" stroke="#000" stroke-width="0.8"/>
<line x1="473.78" y1="252.0" x2="473.78" y2="254.0" stroke="#000" stroke-width="0.8"/>
<line x1="479.55" y1="252.0" x2="479.55" y2="254.0" stroke="#000" stroke-width="0.8"/>
<line x1="485.32" y1="252.0" x2="485.32" y2="255.6" stroke="#000" stroke-width="1.1"/>
<text class="ssb" x="485.32" y="263.8" font-size="6.5" text-anchor="middle" fill="#000" stroke="#000" stroke-width="0.12">30</text>
<line x1="491.09" y1="252.0" x2="491.09" y2="254.0" stroke="#000" stroke-width="0.8"/>
<line x1="496.86" y1="252.0" x2="496.86" y2="254.0" stroke="#000" stroke-width="0.8"/>
<line x1="502.62" y1="252.0" x2="502.62" y2="254.0" stroke="#000" stroke-width="0.8"/>
<line x1="508.39" y1="252.0" x2="508.39" y2="254.0" stroke="#000" stroke-width="0.8"/>
<line x1="514.16" y1="252.0" x2="514.16" y2="255.6" stroke="#000" stroke-width="1.1"/>
<text class="ssb" x="514.16" y="263.8" font-size="6.5" text-anchor="middle" fill="#000" stroke="#000" stroke-width="0.12">40</text>
<line x1="519.93" y1="252.0" x2="519.93" y2="254.0" stroke="#000" stroke-width="0.8"/>
<line x1="525.7" y1="252.0" x2="525.7" y2="254.0" stroke="#000" stroke-width="0.8"/>
<line x1="531.46" y1="252.0" x2="531.46" y2="254.0" stroke="#000" stroke-width="0.8"/>
<line x1="537.23" y1="252.0" x2="537.23" y2="254.0" stroke="#000" stroke-width="0.8"/>
<line x1="543.0" y1="252.0" x2="543.0" y2="255.6" stroke="#000" stroke-width="1.1"/>
<text class="ssb" x="543.0" y="263.8" font-size="6.5" text-anchor="middle" fill="#000" stroke="#000" stroke-width="0.12">50</text>
<text class="ssb" x="471.2" y="276" font-size="7.8" text-anchor="middle" fill="#000" stroke="#000" stroke-width="0.12">Time (Days)</text>
<text class="sfb" x="376.8" y="203.4" font-size="7.6" text-anchor="middle" fill="#000" stroke="#000" stroke-width="0.25" transform="rotate(-90 376.8 203.4)">Remaining Weight (%)</text>
<line x1="506" y1="164" x2="515.6" y2="164" stroke="#000" stroke-width="1"/>
<circle cx="510.8" cy="164" r="1.4" fill="#000"/>
<text class="sfr" x="522" y="166" font-size="5.6" text-anchor="start" fill="#333">PF</text>
<line x1="506" y1="172" x2="515.6" y2="172" stroke="#d80000" stroke-width="1"/>
<rect x="509.5" y="170.7" width="2.60" height="2.60" fill="#d80000"/>
<text class="sfr" x="522" y="174" font-size="5.6" text-anchor="start" fill="#333">GPF</text>
<path d="M37.4 379.4C39.5 379.3 46.2 378.9 50 378.6C53.8 378.3 56.7 377.9 60 377.4C63.3 376.9 66.7 376.4 70 375.8C73.3 375.2 76.7 374.8 80 373.8C83.3 372.8 86.7 371.3 90 369.6C93.3 367.9 96.7 365.8 100 363.4C103.3 361.0 107.0 357.9 110 355C113.0 352.1 115.8 349.2 118 346C120.2 342.8 121.6 339.3 123 336C124.4 332.7 125.4 329.3 126.4 326C127.4 322.7 128.3 319.3 129.2 316C130.1 312.7 130.7 309.3 131.6 306C132.5 302.7 133.9 297.7 134.4 296L135.4 309.4" fill="none" stroke="#e31a1c" stroke-width="1.2" stroke-linejoin="round"/>
<path d="M37.4 379.4C39.5 379.3 46.2 379.2 50 379C53.8 378.8 56.7 378.7 60 378.4C63.3 378.1 66.7 377.8 70 377.4C73.3 377.0 76.7 376.5 80 375.8C83.3 375.1 86.7 374.3 90 373.2C93.3 372.1 96.7 370.9 100 369.4C103.3 367.9 106.7 366.2 110 364C113.3 361.8 116.7 359.3 120 356C123.3 352.7 127.3 347.7 130 344C132.7 340.3 134.4 337.0 136 334C137.6 331.0 138.2 329.2 139.4 326C140.6 322.8 141.8 318.3 143 315C144.2 311.7 145.6 307.8 146.4 306C147.2 304.2 147.2 303.9 147.6 304.2C148.0 304.5 148.3 305.9 148.6 308C148.9 310.1 149.3 315.2 149.4 316.6" fill="none" stroke="#1f1fb4" stroke-width="1.2" stroke-linejoin="round"/>
<path d="M37.3 379.6V289.5H173.0V379.6H37.3" fill="none" stroke="#000" stroke-width="1.1" stroke-linejoin="miter"/>
<line x1="33.9" y1="289.4" x2="37.3" y2="289.4" stroke="#000" stroke-width="1.1"/>
<text class="ssb" x="31.9" y="291.88" font-size="6.9" text-anchor="end" fill="#000" stroke="#000" stroke-width="0.12">1000</text>
<line x1="33.9" y1="307.4" x2="37.3" y2="307.4" stroke="#000" stroke-width="1.1"/>
<text class="ssb" x="31.9" y="309.88" font-size="6.9" text-anchor="end" fill="#000" stroke="#000" stroke-width="0.12">800</text>
<line x1="33.9" y1="325.4" x2="37.3" y2="325.4" stroke="#000" stroke-width="1.1"/>
<text class="ssb" x="31.9" y="327.88" font-size="6.9" text-anchor="end" fill="#000" stroke="#000" stroke-width="0.12">600</text>
<line x1="33.9" y1="343.5" x2="37.3" y2="343.5" stroke="#000" stroke-width="1.1"/>
<text class="ssb" x="31.9" y="345.98" font-size="6.9" text-anchor="end" fill="#000" stroke="#000" stroke-width="0.12">400</text>
<line x1="33.9" y1="361.5" x2="37.3" y2="361.5" stroke="#000" stroke-width="1.1"/>
<text class="ssb" x="31.9" y="363.98" font-size="6.9" text-anchor="end" fill="#000" stroke="#000" stroke-width="0.12">200</text>
<line x1="33.9" y1="379.5" x2="37.3" y2="379.5" stroke="#000" stroke-width="1.1"/>
<text class="ssb" x="31.9" y="381.98" font-size="6.9" text-anchor="end" fill="#000" stroke="#000" stroke-width="0.12">0</text>
<line x1="37.3" y1="379.6" x2="37.3" y2="383.6" stroke="#000" stroke-width="1.1"/>
<text class="ssb" x="37.3" y="391.2" font-size="6.5" text-anchor="middle" fill="#000" stroke="#000" stroke-width="0.12">0</text>
<line x1="71.23" y1="379.6" x2="71.23" y2="383.6" stroke="#000" stroke-width="1.1"/>
<text class="ssb" x="71.23" y="391.2" font-size="6.5" text-anchor="middle" fill="#000" stroke="#000" stroke-width="0.12">20</text>
<line x1="105.16" y1="379.6" x2="105.16" y2="383.6" stroke="#000" stroke-width="1.1"/>
<text class="ssb" x="105.16" y="391.2" font-size="6.5" text-anchor="middle" fill="#000" stroke="#000" stroke-width="0.12">40</text>
<line x1="139.09" y1="379.6" x2="139.09" y2="383.6" stroke="#000" stroke-width="1.1"/>
<text class="ssb" x="139.09" y="391.2" font-size="6.5" text-anchor="middle" fill="#000" stroke="#000" stroke-width="0.12">60</text>
<line x1="173.02" y1="379.6" x2="173.02" y2="383.6" stroke="#000" stroke-width="1.1"/>
<text class="ssb" x="173.02" y="391.2" font-size="6.5" text-anchor="middle" fill="#000" stroke="#000" stroke-width="0.12">80</text>
<text class="sfb" x="105" y="402" font-size="7.2" text-anchor="middle" fill="#000" stroke="#000" stroke-width="0.25">Strain (%)</text>
<text class="sfb" x="14" y="333.5" font-size="7.5" text-anchor="middle" fill="#000" stroke="#000" stroke-width="0.25" transform="rotate(-90 14 333.5)">Stress(kpa)</text>
<line x1="45" y1="295.9" x2="54.4" y2="295.9" stroke="#e31a1c" stroke-width="1.5"/>
<text class="sfr" x="64.0" y="297.6" font-size="5.4" text-anchor="middle" fill="#333">PF</text>
<line x1="45" y1="303.2" x2="54.4" y2="303.2" stroke="#1f1fb4" stroke-width="1.5"/>
<text class="sfr" x="64.7" y="305.0" font-size="5.4" text-anchor="middle" fill="#333">GPF</text>
<line x1="253.5" y1="319.4" x2="253.5" y2="325.4" stroke="#111" stroke-width="1.05"/>
<line x1="243.8" y1="319.4" x2="263.2" y2="319.4" stroke="#111" stroke-width="1.05"/>
<rect x="234" y="325.4" width="39.00" height="59.60" fill="#000"/>
<line x1="312.8" y1="338.5" x2="312.8" y2="342" stroke="#111" stroke-width="1.05"/>
<line x1="303.1" y1="338.5" x2="322.5" y2="338.5" stroke="#111" stroke-width="1.05"/>
<rect x="293.6" y="342" width="38.40" height="43.00" fill="#c00000" stroke="#000" stroke-width="0.7"/>
<path d="M213.7 385V291.5H352.4V385H213.7" fill="none" stroke="#000" stroke-width="1.1" stroke-linejoin="miter"/>
<line x1="210.29999999999998" y1="291.5" x2="213.7" y2="291.5" stroke="#000" stroke-width="1.1"/>
<text class="ssb" x="208.3" y="293.98" font-size="6.9" text-anchor="end" fill="#000" stroke="#000" stroke-width="0.12">200</text>
<line x1="210.29999999999998" y1="314.9" x2="213.7" y2="314.9" stroke="#000" stroke-width="1.1"/>
<text class="ssb" x="208.3" y="317.38" font-size="6.9" text-anchor="end" fill="#000" stroke="#000" stroke-width="0.12">150</text>
<line x1="210.29999999999998" y1="338.25" x2="213.7" y2="338.25" stroke="#000" stroke-width="1.1"/>
<text class="ssb" x="208.3" y="340.73" font-size="6.9" text-anchor="end" fill="#000" stroke="#000" stroke-width="0.12">100</text>
<line x1="210.29999999999998" y1="361.6" x2="213.7" y2="361.6" stroke="#000" stroke-width="1.1"/>
<text class="ssb" x="208.3" y="364.08" font-size="6.9" text-anchor="end" fill="#000" stroke="#000" stroke-width="0.12">50</text>
<line x1="210.29999999999998" y1="385" x2="213.7" y2="385" stroke="#000" stroke-width="1.1"/>
<text class="ssb" x="208.3" y="387.48" font-size="6.9" text-anchor="end" fill="#000" stroke="#000" stroke-width="0.12">0</text>
<line x1="253.4" y1="385" x2="253.4" y2="388" stroke="#000" stroke-width="1.1"/>
<text class="sfb" x="253.4" y="397.0" font-size="7.0" text-anchor="middle" fill="#000" stroke="#000" stroke-width="0.25">PF</text>
<line x1="312.8" y1="385" x2="312.8" y2="388" stroke="#000" stroke-width="1.1"/>
<text class="sfb" x="312.8" y="397.0" font-size="7.0" text-anchor="middle" fill="#000" stroke="#000" stroke-width="0.25">GPF</text>
<line x1="252.6" y1="304.5" x2="312.6" y2="304.5" stroke="#222" stroke-width="1.3"/>
<text class="sfb" x="283.4" y="302.6" font-size="6.6" text-anchor="middle" fill="#000" stroke="#000" stroke-width="0.25">**</text>
<text class="sfb" x="193" y="337.5" font-size="7.5" text-anchor="middle" fill="#000" stroke="#000" stroke-width="0.25" transform="rotate(-90 193 337.5)">Modulus (Kpa)</text>
<line x1="445.3" y1="323.6" x2="445.3" y2="328" stroke="#111" stroke-width="1.05"/>
<line x1="435.8" y1="323.6" x2="454.8" y2="323.6" stroke="#111" stroke-width="1.05"/>
<rect x="425.6" y="328" width="39.40" height="57.40" fill="#000"/>
<line x1="505.1" y1="327.4" x2="505.1" y2="334" stroke="#111" stroke-width="1.05"/>
<line x1="495.5" y1="327.4" x2="514.7" y2="327.4" stroke="#111" stroke-width="1.05"/>
<rect x="485.6" y="334" width="39.00" height="51.40" fill="#c00000" stroke="#000" stroke-width="0.7"/>
<path d="M405.5 385.4V291.5H544.6V385.4H405.5" fill="none" stroke="#000" stroke-width="1.1" stroke-linejoin="miter"/>
<line x1="402.1" y1="291.5" x2="405.5" y2="291.5" stroke="#000" stroke-width="1.1"/>
<text class="ssb" x="400.1" y="293.98" font-size="6.9" text-anchor="end" fill="#000" stroke="#000" stroke-width="0.12">1500</text>
<line x1="402.1" y1="322.8" x2="405.5" y2="322.8" stroke="#000" stroke-width="1.1"/>
<text class="ssb" x="400.1" y="325.28" font-size="6.9" text-anchor="end" fill="#000" stroke="#000" stroke-width="0.12">1000</text>
<line x1="402.1" y1="354.1" x2="405.5" y2="354.1" stroke="#000" stroke-width="1.1"/>
<text class="ssb" x="400.1" y="356.58" font-size="6.9" text-anchor="end" fill="#000" stroke="#000" stroke-width="0.12">500</text>
<line x1="402.1" y1="385.4" x2="405.5" y2="385.4" stroke="#000" stroke-width="1.1"/>
<text class="ssb" x="400.1" y="387.88" font-size="6.9" text-anchor="end" fill="#000" stroke="#000" stroke-width="0.12">0</text>
<line x1="445.4" y1="385.4" x2="445.4" y2="388.4" stroke="#000" stroke-width="1.1"/>
<text class="sfb" x="445.4" y="398.0" font-size="7.2" text-anchor="middle" fill="#000" stroke="#000" stroke-width="0.25">PF</text>
<line x1="505" y1="385.4" x2="505" y2="388.4" stroke="#000" stroke-width="1.1"/>
<text class="sfb" x="505" y="398.0" font-size="7.2" text-anchor="middle" fill="#000" stroke="#000" stroke-width="0.25">GPF</text>
<line x1="445.4" y1="305.1" x2="505.6" y2="305.1" stroke="#222" stroke-width="1.3"/>
<text class="sfb" x="475.4" y="301.5" font-size="7.4" text-anchor="middle" fill="#000">ns</text>
<text class="sfb" x="369" y="338" font-size="7.7" text-anchor="middle" fill="#000" stroke="#000" stroke-width="0.25" transform="rotate(-90 369 338)">Compressive strength</text>
<text class="sfb" x="379.2" y="337.5" font-size="7.7" text-anchor="middle" fill="#000" stroke="#000" stroke-width="0.25" transform="rotate(-90 379.2 337.5)">(kPa)</text>
</svg>
</body></html>
